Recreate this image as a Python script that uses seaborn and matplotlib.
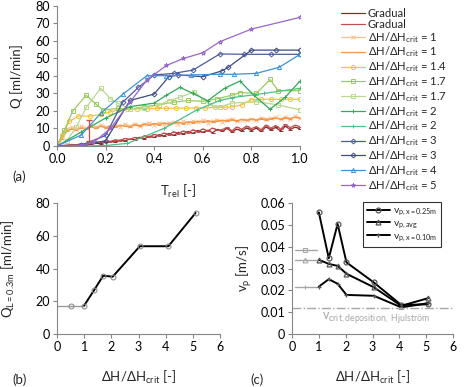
import matplotlib
matplotlib.use('Agg')
import matplotlib.pyplot as plt
import seaborn as sns

# ---------------- data ----------------
# panel (a): Q [ml/min] against T_rel
t_noisy = [i / 50 for i in range(51)]
q_gradual_1 = [0, 0.1, 0.3, 0.2, 0.6, 0.9, 0.6, 1.2, 1.6, 1.3,
               2.1, 2.7, 2.3, 3.4, 2.9, 4.0, 3.6, 5.0, 4.2, 5.6,
               4.9, 6.5, 5.7, 7.2, 6.1, 7.8, 6.9, 8.3, 7.2, 8.9,
               7.8, 9.0, 7.6, 9.5, 8.3, 10.1, 8.0, 9.7, 8.5, 10.4,
               8.8, 10.2, 8.3, 11.0, 9.1, 10.6, 8.6, 11.3, 9.4, 10.8, 9.8]
q_gradual_2 = [0, 0.3, 0.5, 0.9, 0.7, 1.4, 1.1, 1.8, 2.4, 2.0,
               2.9, 2.5, 3.6, 3.1, 4.3, 3.8, 4.9, 4.4, 5.9, 5.2,
               6.6, 5.8, 7.5, 6.4, 8.2, 7.1, 8.6, 7.7, 9.3, 8.1,
               9.8, 8.6, 10.3, 8.9, 9.4, 10.6, 8.7, 10.9, 9.6, 11.4,
               9.9, 11.1, 9.3, 12.0, 10.2, 11.7, 9.7, 12.3, 10.5, 11.9, 11.0]
q_dh1_a = [0, 5.5, 9.8, 10.6, 9.9, 11.2, 10.4, 11.8, 10.7, 12.0,
           11.1, 10.5, 12.2, 11.0, 12.5, 11.4, 12.8, 11.7, 12.3, 13.1,
           12.0, 13.4, 12.4, 13.0, 13.8, 12.7, 14.0, 13.1, 14.3, 13.5,
           14.6, 13.4, 14.1, 15.0, 13.8, 14.7, 15.3, 14.2, 15.1, 14.6,
           15.6, 14.9, 16.0, 15.2, 15.8, 16.3, 15.4, 16.6, 15.7, 16.9, 16.2]
q_dh1_b = [0, 3.8, 8.6, 9.7, 9.1, 10.3, 9.5, 10.9, 10.0, 11.3,
           10.4, 11.6, 10.8, 11.9, 11.2, 10.9, 12.1, 11.5, 12.6, 11.8,
           12.9, 12.2, 13.2, 12.5, 12.9, 13.6, 12.8, 13.9, 13.3, 14.2,
           13.6, 14.5, 13.9, 14.1, 14.8, 14.3, 15.0, 14.4, 15.2, 14.7,
           15.4, 14.9, 15.7, 15.1, 15.5, 16.0, 15.3, 16.2, 15.6, 16.4, 15.9]
err_t = [0.13]
err_q = [9.0]
err_size = [6.0]

t_14 = [0, 0.02, 0.05, 0.088, 0.136, 0.18, 0.22, 0.25, 0.29, 0.33, 0.37, 0.41, 0.45, 0.49,
        0.53, 0.57, 0.61, 0.65, 0.69, 0.72, 0.76, 0.80, 0.84, 0.88, 0.92, 0.96, 1.0]
q_14 = [0, 6, 14, 17.1, 17.1, 18.0, 19.5, 20.6, 21.0, 21.2, 21.2, 21.5, 21.5, 21.6,
        21.6, 21.8, 21.8, 22.0, 22.2, 22.3, 23.5, 26.5, 26.7, 26.7, 26.6, 26.7, 26.7]
t_17a = [0, 0.03, 0.065, 0.12, 0.16, 0.19, 0.25, 0.3, 0.36, 0.42, 0.48, 0.54, 0.6, 0.66,
         0.72, 0.753, 0.82, 0.877, 0.91, 1.0]
q_17a = [0, 9, 20, 29, 24, 20.5, 21.5, 21, 22.5, 23.5, 25, 26, 25.5, 27,
         29, 30.5, 30, 38, 31.6, 31.6]
t_17b = [0, 0.04, 0.08, 0.12, 0.18, 0.22, 0.25, 0.3, 0.36, 0.42, 0.46, 0.506, 0.565, 0.63,
         0.67, 0.72, 0.82, 0.91, 1.0]
q_17b = [0, 3, 11, 22, 33, 27, 24.5, 21, 21.5, 23.5, 25.9, 27.8, 31, 23.4,
         22.3, 24.5, 25.3, 23.5, 20.6]
t_2a = [0, 0.1, 0.2, 0.3, 0.4, 0.45, 0.506, 0.56, 0.62, 0.69, 0.753, 0.81, 0.877, 0.94, 1.0]
q_2a = [0, 8, 16, 22.5, 24.5, 29, 33.5, 30, 25.9, 33, 37.1, 29, 21, 28, 37.1]
t_2b = [0, 0.1, 0.2, 0.29, 0.44, 0.575, 0.67, 0.72, 0.85, 1.0]
q_2b = [0, 0, 0.3, 1.5, 10, 20.6, 26, 27.6, 30, 33]
t_3a = [0, 0.1, 0.2, 0.27, 0.335, 0.4, 0.48, 0.56, 0.67, 0.77, 0.88, 1.0]
q_3a = [0, 0.5, 6, 25, 33.5, 40.6, 41.5, 43.4, 52.6, 52.4, 52.4, 52.4]
t_3b = [0, 0.1, 0.2, 0.3, 0.4, 0.46, 0.5, 0.6, 0.68, 0.705, 0.8, 0.9, 1.0]
q_3b = [0, 0.3, 3, 26, 29.7, 39.6, 40.6, 39.6, 43, 45, 54.8, 54.8, 54.8]
t_4 = [0, 0.1, 0.18, 0.27, 0.37, 0.45, 0.55, 0.67, 0.73, 0.82, 0.915, 1.0]
q_4 = [0, 6.3, 18.7, 29.5, 40.2, 40.2, 40.6, 41, 41, 41.5, 45, 52.4]
t_5 = [0, 0.1, 0.15, 0.22, 0.3, 0.37, 0.45, 0.52, 0.6, 0.67, 0.8, 1.0]
q_5 = [0, 0.3, 2, 10, 25, 37.7, 46, 50, 53.3, 59.6, 66.8, 73.5]

# panel (b): Q at L=0.3 m against dH/dH_crit
ratio_gradual = [0, 0.5, 1.0]
q_l03_gradual = [17.4, 17.4, 17.4]
ratio_b = [1.0, 1.37, 1.7, 2.05, 3.05, 4.1, 5.1]
q_l03 = [17.4, 26.9, 35.6, 35.0, 53.6, 53.6, 73.9]

# panel (c): particle velocities
ratio_c = [1.0, 1.37, 1.7, 2.03, 3.05, 4.07, 5.07]
v_025 = [0.0557, 0.0347, 0.0504, 0.0328, 0.0236, 0.0133, 0.0136]
v_avg = [0.0340, 0.0321, 0.0312, 0.0276, 0.0214, 0.0129, 0.0164]
v_010 = [0.0217, 0.0251, 0.0230, 0.0179, 0.0175, 0.0122, 0.0141]
ratio_grad_c = [0.1, 0.5, 0.93]
v_025_grad = [0.0386, 0.0386, 0.0386]
v_avg_grad = [0.0337, 0.0337, 0.0337]
v_010_grad = [0.0217, 0.0217, 0.0217]
v_crit = 0.0118

# ---------------- style ----------------
sns.set_theme(style='ticks')
plt.rcParams['font.family'] = ['Lato', 'DejaVu Sans']
plt.rcParams['mathtext.fontset'] = 'custom'
plt.rcParams['mathtext.rm'] = 'Lato'
plt.rcParams['mathtext.it'] = 'Lato:italic'
plt.rcParams['mathtext.bf'] = 'Lato:bold'
plt.rcParams['mathtext.fallback'] = 'stixsans'
plt.rcParams['axes.edgecolor'] = '#868686'
plt.rcParams['xtick.color'] = '#868686'
plt.rcParams['ytick.color'] = '#868686'
plt.rcParams['xtick.labelcolor'] = 'black'
plt.rcParams['ytick.labelcolor'] = 'black'

W, H = 474, 387
fig = plt.figure(figsize=(W / 100, H / 100), dpi=100)


def px_axes(x0, x1, y_top, y_bot):
    return fig.add_axes([x0 / W, 1 - y_bot / H, (x1 - x0) / W, (y_bot - y_top) / H])


def style_axes(ax):
    sns.despine(ax=ax)
    for s in ['left', 'bottom']:
        ax.spines[s].set_linewidth(0.8)
    ax.tick_params(length=3, width=0.8, labelsize=9, pad=2)


dH = r'ΔH/ΔH$_{\mathrm{crit}}$'

# ---------------- panel (a) ----------------
ax_a = px_axes(57, 300, 6, 146)
series_a = [
    (t_noisy, q_gradual_1, '#8E2A2A', '_', 2.5, 'Gradual'),
    (t_noisy, q_gradual_2, '#C0504D', '_', 2.5, 'Gradual'),
    (t_noisy, q_dh1_a, '#FAC090', 'x', 2.5, dH + ' = 1'),
    (t_noisy, q_dh1_b, '#F79646', '_', 2.5, dH + ' = 1'),
    (t_14, q_14, '#F5C342', 'o', 3, dH + ' = 1.4'),
    (t_17a, q_17a, '#9BCB5F', 's', 3, dH + ' = 1.7'),
    (t_17b, q_17b, '#B9DA8C', 's', 3, dH + ' = 1.7'),
    (t_2a, q_2a, '#31A85A', '+', 3, dH + ' = 2'),
    (t_2b, q_2b, '#4CC08A', '+', 3, dH + ' = 2'),
    (t_3a, q_3a, '#4B5C9E', 'D', 2.5, dH + ' = 3'),
    (t_3b, q_3b, '#3D4B86', 'D', 2.5, dH + ' = 3'),
    (t_4, q_4, '#3E92D6', '^', 3, dH + ' = 4'),
    (t_5, q_5, '#9966CC', '*', 3, dH + ' = 5'),
]
handles = []
for t, q, col, mk, ms, lab in series_a:
    sns.lineplot(x=t, y=q, ax=ax_a, color=col, marker=mk, markersize=ms,
                 markerfacecolor='none', markeredgecolor=col, markeredgewidth=0.7,
                 linewidth=0.9, sort=False, estimator=None, label=lab, legend=False)
    handles.append(ax_a.lines[-1])
ax_a.errorbar(err_t, err_q, yerr=err_size, fmt='none', ecolor='#C0504D',
              elinewidth=0.9, capsize=2)
ax_a.set_xlim(0, 1)
ax_a.set_ylim(0, 80)
ax_a.set_xticks([0, 0.2, 0.4, 0.6, 0.8, 1.0])
ax_a.set_xticklabels(['0.0', '0.2', '0.4', '0.6', '0.8', '1.0'])
ax_a.set_yticks(range(0, 81, 10))
style_axes(ax_a)
ax_a.set_xlabel(r'T$_{\mathrm{rel}}$ [-]', fontsize=9.5)
ax_a.set_ylabel('Q [ml/min]', fontsize=9.5)
ax_a.xaxis.set_label_coords(0.5, -0.265)
ax_a.yaxis.set_label_coords(-0.14, 0.5)
fig.legend(handles=handles, labels=[s[5] for s in series_a], loc='upper left',
           bbox_to_anchor=(333 / W, 1 - 0 / H), frameon=False, fontsize=8.1,
           handlelength=2.1, handletextpad=0.3, labelspacing=0.0, borderpad=0.2)
fig.text(12 / W, 1 - 177 / H, '(a)', fontsize=9.5, va='center')

# ---------------- panel (b) ----------------
ax_b = px_axes(57, 220, 203, 334)
sns.lineplot(x=ratio_gradual, y=q_l03_gradual, ax=ax_b, color='#999999', linewidth=1.0,
             marker='o', markersize=3.5, markerfacecolor='none', markeredgecolor='#888888',
             markevery=[1], sort=False, estimator=None)
sns.lineplot(x=ratio_b, y=q_l03, ax=ax_b, color='black', linewidth=1.4,
             marker='o', markersize=3.5, markerfacecolor='none', markeredgecolor='#888888',
             sort=False, estimator=None)
ax_b.set_xlim(0, 6)
ax_b.set_ylim(0, 80)
ax_b.set_xticks(range(0, 7))
ax_b.set_yticks(range(0, 81, 20))
style_axes(ax_b)
ax_b.set_xlabel(dH + ' [-]', fontsize=9.5)
ax_b.set_ylabel(r'Q$_{\mathrm{L=0.3m}}$ [ml/min]', fontsize=9.5)
ax_b.xaxis.set_label_coords(0.5, -0.27)
ax_b.yaxis.set_label_coords(-0.245, 0.5)
fig.text(12 / W, 1 - 380 / H, '(b)', fontsize=9.5, va='center')

# ---------------- panel (c) ----------------
ax_c = px_axes(292, 453, 203, 334)
for v_grad, mk in [(v_025_grad, 's'), (v_avg_grad, '^'), (v_010_grad, '+')]:
    sns.lineplot(x=ratio_grad_c, y=v_grad, ax=ax_c, color='#A6A6A6', linewidth=1.0,
                 marker=mk, markersize=3.5, markerfacecolor='none',
                 markeredgecolor='#A6A6A6', markevery=[1], sort=False, estimator=None)
c_series = [
    (v_025, 'o', r'v$_{\mathrm{p,x=0.25m}}$'),
    (v_avg, '^', r'v$_{\mathrm{p,avg}}$'),
    (v_010, '+', r'v$_{\mathrm{p,x=0.10m}}$'),
]
c_handles = []
for v, mk, lab in c_series:
    sns.lineplot(x=ratio_c, y=v, ax=ax_c, color='black', linewidth=1.4, marker=mk,
                 markersize=3.5, markerfacecolor='none', markeredgecolor='#555555',
                 markeredgewidth=0.9, sort=False, estimator=None, label=lab, legend=False)
    c_handles.append(ax_c.lines[-1])
ax_c.axhline(v_crit, color='#A6A6A6', linestyle='-.', linewidth=1.0)
ax_c.text(1.1, 0.0072, r'v$_{\mathrm{crit,deposition,\ Hjulström}}$', color='#A6A6A6',
          fontsize=9, va='center')
ax_c.set_xlim(0, 6)
ax_c.set_ylim(0, 0.06)
ax_c.set_xticks(range(0, 7))
ax_c.set_yticks([0, 0.01, 0.02, 0.03, 0.04, 0.05, 0.06])
ax_c.set_yticklabels(['0', '0.01', '0.02', '0.03', '0.04', '0.05', '0.06'])
style_axes(ax_c)
ax_c.set_xlabel(dH + ' [-]', fontsize=9.5)
ax_c.set_ylabel(r'v$_{\mathrm{p}}$ [m/s]', fontsize=9.5)
ax_c.xaxis.set_label_coords(0.5, -0.27)
ax_c.yaxis.set_label_coords(-0.235, 0.5)
leg_c = fig.legend(handles=c_handles, labels=[s[2] for s in c_series], loc='upper left',
                   bbox_to_anchor=(358 / W, 1 - 197 / H), frameon=True, fontsize=7.5,
                   handlelength=2.2, handletextpad=0.3, labelspacing=0.1, borderpad=0.35,
                   fancybox=False, edgecolor='black')
leg_c.get_frame().set_linewidth(0.8)
fig.text(250 / W, 1 - 380 / H, '(c)', fontsize=9.5, va='center')

fig.savefig('out.png', dpi=100)
